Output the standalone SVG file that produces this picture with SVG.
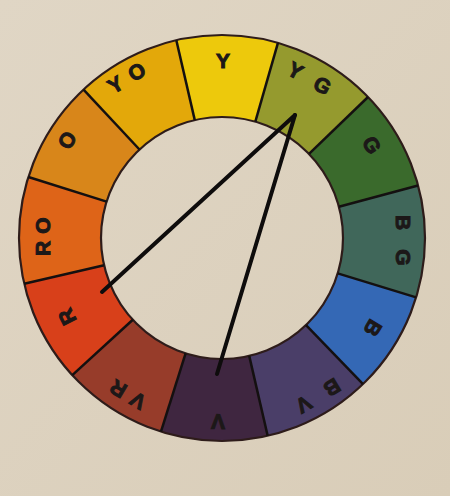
<svg xmlns="http://www.w3.org/2000/svg" width="450" height="496" viewBox="0 0 450 496">
<defs>
<linearGradient id="bg" x1="0" y1="0" x2="1" y2="1">
<stop offset="0" stop-color="#e0d6c5"/>
<stop offset="1" stop-color="#d9cdb8"/>
</linearGradient>
</defs>
<style>
.seg{stroke:none}
.lbl{font-family:"Liberation Sans","DejaVu Sans",sans-serif;font-weight:bold;font-size:21px;fill:#1c1818;stroke:#1c1818;stroke-width:1;text-anchor:middle}
.div{stroke:#141010;stroke-width:2.5;fill:none}
.rim{stroke:#2e1c1a;stroke-width:2.2;fill:none}
.con{stroke:#0e0c0c;stroke-width:4;stroke-linecap:round;fill:none}
</style>
<rect width="450" height="496" fill="url(#bg)"/>
<g id="wheel">
<g id="seg-Y"><path class="seg" fill="#edc90c" d="M176.33,40.20 A203,203 0 0 1 277.95,42.86 L255.35,121.69 A121,121 0 0 0 194.78,120.10 Z"/>
<text class="lbl" transform="translate(223,60) rotate(0)" x="0" y="7.5">Y</text></g>
<g id="seg-YG"><path class="seg" fill="#959a2e" d="M277.95,42.86 A203,203 0 0 1 368.03,96.98 L309.04,153.95 A121,121 0 0 0 255.35,121.69 Z"/>
<text class="lbl" transform="translate(309,78) rotate(28.5)" x="-15.5 15.5" y="7.5">YG</text></g>
<g id="seg-G"><path class="seg" fill="#3a6a2c" d="M368.03,96.98 A203,203 0 0 1 418.08,185.46 L338.88,206.68 A121,121 0 0 0 309.04,153.95 Z"/>
<text class="lbl" transform="translate(372,145) rotate(58)" x="0" y="7.5">G</text></g>
<g id="seg-BG"><path class="seg" fill="#40675a" d="M418.08,185.46 A203,203 0 0 1 416.13,297.35 L337.71,273.38 A121,121 0 0 0 338.88,206.68 Z"/>
<text class="lbl" transform="translate(403,240) rotate(90)" x="-17.5 17.5" y="7.5">BG</text></g>
<g id="seg-B"><path class="seg" fill="#3468b5" d="M416.13,297.35 A203,203 0 0 1 363.02,384.03 L306.05,325.04 A121,121 0 0 0 337.71,273.38 Z"/>
<text class="lbl" transform="translate(373,328) rotate(121)" x="0" y="7.5">B</text></g>
<g id="seg-BV"><path class="seg" fill="#4a3e68" d="M363.02,384.03 A203,203 0 0 1 267.67,435.80 L249.22,355.90 A121,121 0 0 0 306.05,325.04 Z"/>
<text class="lbl" transform="translate(318,396) rotate(149)" x="-16.5 16.5" y="7.5">BV</text></g>
<g id="seg-V"><path class="seg" fill="#3f2640" d="M267.67,435.80 A203,203 0 0 1 160.96,431.61 L185.61,353.40 A121,121 0 0 0 249.22,355.90 Z"/>
<text class="lbl" transform="translate(218,422) rotate(181)" x="0" y="7.5">V</text></g>
<g id="seg-VR"><path class="seg" fill="#973c2a" d="M160.96,431.61 A203,203 0 0 1 72.33,375.14 L132.79,319.75 A121,121 0 0 0 185.61,353.40 Z"/>
<text class="lbl" transform="translate(128,395) rotate(211)" x="-11.5 11.5" y="7.5">VR</text></g>
<g id="seg-R"><path class="seg" fill="#d8401a" d="M72.33,375.14 A203,203 0 0 1 24.20,283.67 L104.10,265.22 A121,121 0 0 0 132.79,319.75 Z"/>
<text class="lbl" transform="translate(67,317) rotate(243)" x="0" y="7.5">R</text></g>
<g id="seg-RO"><path class="seg" fill="#de6418" d="M24.20,283.67 A203,203 0 0 1 28.39,176.96 L106.60,201.61 A121,121 0 0 0 104.10,265.22 Z"/>
<text class="lbl" transform="translate(42,237) rotate(270)" x="-11.5 11.5" y="7.5">RO</text></g>
<g id="seg-O"><path class="seg" fill="#d8861a" d="M28.39,176.96 A203,203 0 0 1 83.55,89.54 L139.48,149.51 A121,121 0 0 0 106.60,201.61 Z"/>
<text class="lbl" transform="translate(67,140) rotate(302)" x="0" y="7.5">O</text></g>
<g id="seg-YO"><path class="seg" fill="#e3a80a" d="M83.55,89.54 A203,203 0 0 1 176.33,40.20 L194.78,120.10 A121,121 0 0 0 139.48,149.51 Z"/>
<text class="lbl" transform="translate(126,78) rotate(329)" x="-12.5 12.5" y="7.5">YO</text></g>
<g id="outlines">
<circle class="rim" cx="222" cy="238" r="203"/>
<circle class="rim" cx="222" cy="238" r="121" fill="#e0d6c5"/>
<line class="div" x1="176.33" y1="40.20" x2="194.78" y2="120.10"/>
<line class="div" x1="277.95" y1="42.86" x2="255.35" y2="121.69"/>
<line class="div" x1="368.03" y1="96.98" x2="309.04" y2="153.95"/>
<line class="div" x1="418.08" y1="185.46" x2="338.88" y2="206.68"/>
<line class="div" x1="416.13" y1="297.35" x2="337.71" y2="273.38"/>
<line class="div" x1="363.02" y1="384.03" x2="306.05" y2="325.04"/>
<line class="div" x1="267.67" y1="435.80" x2="249.22" y2="355.90"/>
<line class="div" x1="160.96" y1="431.61" x2="185.61" y2="353.40"/>
<line class="div" x1="72.33" y1="375.14" x2="132.79" y2="319.75"/>
<line class="div" x1="24.20" y1="283.67" x2="104.10" y2="265.22"/>
<line class="div" x1="28.39" y1="176.96" x2="106.60" y2="201.61"/>
<line class="div" x1="83.55" y1="89.54" x2="139.48" y2="149.51"/>
</g>
</g>
<g id="connectors">
<line class="con" x1="295" y1="115" x2="102" y2="292"/>
<line class="con" x1="295" y1="115" x2="217" y2="374"/>
</g>
</svg>
